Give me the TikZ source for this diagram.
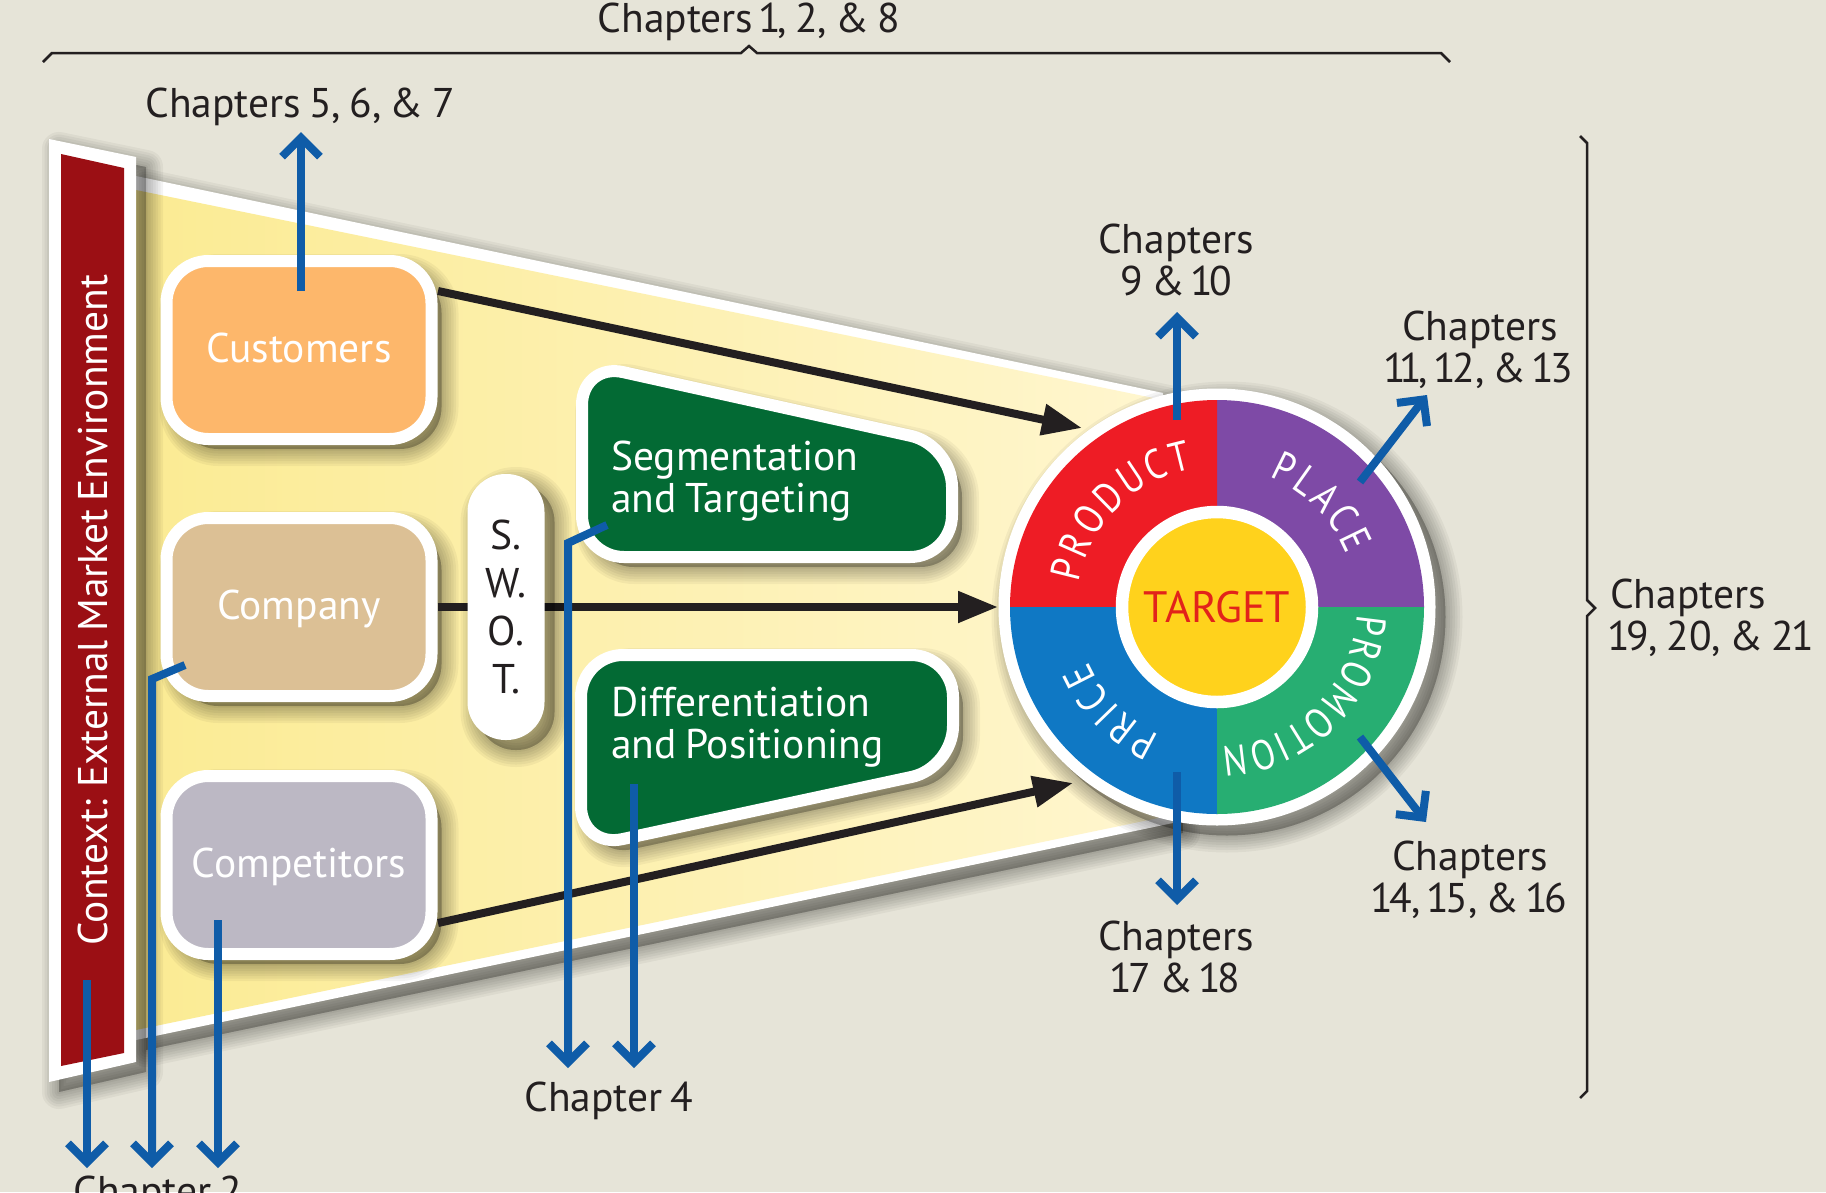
\documentclass[tikz,border=0pt]{standalone}
\usepackage{fontspec}
\setmainfont[WordSpace=0.75]{PT Sans}
\newfontfamily\ringface[FakeStretch=0.84]{PT Sans}
\usetikzlibrary{arrows.meta,decorations.text}
\definecolor{pagebg}{HTML}{E6E4D8}
\definecolor{inkdark}{HTML}{231F20}
\definecolor{barred}{HTML}{9B0F14}
\definecolor{funnelleft}{HTML}{FBEB93}
\definecolor{funnelright}{HTML}{FFF6CF}
\definecolor{custfill}{HTML}{FDB76B}
\definecolor{compfill}{HTML}{DCC095}
\definecolor{rivalfill}{HTML}{BCB8C4}
\definecolor{stpgreen}{HTML}{036A34}
\definecolor{arrowblue}{HTML}{0F5CA8}
\definecolor{wheelred}{HTML}{EE1C25}
\definecolor{wheelpurple}{HTML}{7E4AA6}
\definecolor{wheelblue}{HTML}{0F78C4}
\definecolor{wheelgreen}{HTML}{27AE72}
\definecolor{targetyellow}{HTML}{FFD21C}
\definecolor{targetred}{HTML}{E2231A}
\newcommand{\labelfont}{\fontsize{41.5}{42}\selectfont}
\newcommand{\ringfont}{\ringface\fontsize{42}{44}\selectfont}
\newcommand{\thinone}{\kern-3pt 1\kern-3.5pt}
\newcommand{\ringlabel}[3]{\path[decorate,decoration={text along path,text={|\ringfont|#1},text color=white,text align={fit to path}}] (#2:140) arc[start angle=#2,end angle=#3,radius=140];}
\tikzset{
    shadowlayer/.style={draw=black,fill=black,opacity=.042,line width=#1,line join=round,transform canvas={shift={(10pt,-10pt)}}},
    softshadow/.style={preaction={shadowlayer=34},preaction={shadowlayer=29},preaction={shadowlayer=24},preaction={shadowlayer=19},preaction={shadowlayer=14},preaction={shadowlayer=9},preaction={shadowlayer=4}},
    chapterlabel/.style={text=inkdark,font=\labelfont,align=center,inner sep=0pt},
    boxnode/.style={draw=white,line width=12pt,rounded corners=42pt,minimum width=265,minimum height=178,text=white,font=\labelfont,text height=28pt,text depth=4pt,softshadow},
    stpbox/.style={fill=stpgreen,draw=white,line width=12pt,rounded corners=42pt,line join=round,softshadow},
    stplabel/.style={text=white,font=\labelfont,align=left,anchor=west,inner sep=0pt},
    blackarrow/.style={draw=inkdark,line width=8pt,-{Triangle[length=40pt,width=30pt]}},
    bluearrow/.style={draw=arrowblue,line width=8pt,-{Straight Barb[length=19pt,width=38pt,line width=8pt]}},
    bracket/.style={draw=inkdark,line width=2.5pt}
}
\begin{document}
\begin{tikzpicture}[x=1pt,y=1pt]
    \fill[pagebg] (0,0) rectangle (1826,-1192);
    \useasboundingbox (0,0) rectangle (1826,-1192);

    \draw[bracket] (43,-62) -- (52,-53) -- (741,-53) -- (749,-46) -- (757,-53) -- (1441,-53) -- (1450,-62);
    \draw[bracket] (1580,-136) -- (1587,-143) -- (1587,-600) -- (1595,-608) -- (1587,-616) -- (1587,-1091) -- (1580,-1098);

    \fill[white,softshadow] (136,-176) -- (1163,-393) -- (1173,-823) -- (136,-1040) -- cycle;
    \shade[left color=funnelleft,right color=funnelright] (136,-190) -- (1163,-400) -- (1163,-817) -- (136,-1030) -- cycle;

    \fill[white,softshadow] (49,-139) -- (136,-157) -- (136,-1062) -- (49,-1082) -- cycle;
    \fill[barred] (61,-154) -- (124,-168) -- (124,-1053) -- (61,-1066) -- cycle;

    \coordinate (custout) at (438,-291);
    \coordinate (custtip) at (1082,-428);
    \coordinate (rivalout) at (438,-923);
    \coordinate (rivaltip) at (1073,-783);
    \coordinate (comptip) at (998,-607);

    \node (customers) at (299,-350) [boxnode,fill=custfill] {Customers};
    \node (company) at (299,-607) [boxnode,fill=compfill] {Company};
    \node (competitors) at (299,-865) [boxnode,fill=rivalfill] {Competitors};

    \draw[blackarrow] (custout) -- (custtip);
    \draw[blackarrow] (company) -- (comptip);
    \draw[blackarrow] (rivalout) -- (rivaltip);

    \node (swot) at (506,-607) [rounded corners=38pt,fill=white,minimum width=77,minimum height=266,text=inkdark,font=\labelfont,align=center,inner sep=0pt,softshadow] {S.\\[6pt]W.\\[6pt]O.\\[6pt]T.};

    \path[stpbox] (582,-363) -- (952,-445) -- (952,-557) -- (582,-557) -- cycle;
    \path[stpbox] (581,-655) -- (953,-655) -- (953,-768) -- (581,-848) -- cycle;
    \node (segment) at (611,-481) [stplabel] {Segmentation\\and Targeting};
    \node (differ) at (611,-727) [stplabel] {Differentiation\\and Positioning};

    \node (wheel) at (1217,-607) [circle,fill=white,minimum size=437,inner sep=0pt,softshadow] {};
    \begin{scope}[shift={(1217,-607)}]
        \foreach \col/\ang in {wheelpurple/0,wheelred/90,wheelblue/180,wheelgreen/270}
            \fill[\col] (0,0) -- (\ang:207) arc[start angle=\ang,delta angle=90,radius=207] -- cycle;
        \ringlabel{PRODUCT}{170}{100}
        \ringlabel{PLACE}{68}{22}
        \ringlabel{PROMOTION}{-3}{-88}
        \ringlabel{PRICE}{-114}{-157}
    \end{scope}
    \node (target) at (wheel) [circle,fill=targetyellow,draw=white,line width=12.5pt,minimum size=190,inner sep=0pt,text=targetred,font=\fontsize{44}{46}\selectfont] {TARGET};

    \node (context) at (93,-610) [rotate=90,text=white,font=\labelfont,inner sep=0pt] {Context: External Market Environment};

    \node (lab128) at (749,-22) [chapterlabel] {Chapters \thinone, 2, \& 8};
    \node (lab567) at (300,-107) [chapterlabel] {Chapters 5, 6, \& 7};
    \node (lab910) at (1176,-260) [chapterlabel] {Chapters\\9 \& \thinone 0};
    \node (lab111213) at (1480,-350) [chapterlabel] {Chapters\\\thinone\thinone, \thinone 2, \& \thinone 3};
    \node (lab141516) at (1470,-880) [chapterlabel] {Chapters\\\thinone 4, \thinone 5, \& \thinone 6};
    \node (lab1718) at (1176,-957) [chapterlabel] {Chapters\\\thinone 7 \& \thinone 8};
    \node (lab192021) at (1610,-618) [chapterlabel,anchor=west,align=left] {Chapters\\\thinone 9, 20, \& 2\thinone};
    \node (lab4) at (609,-1101) [chapterlabel] {Chapter 4};
    \node (lab2) at (158,-1195) [chapterlabel] {Chapter 2};

    \coordinate (contextin) at (87,-980);
    \coordinate (contexttip) at (87,-1168);
    \coordinate (companyin) at (185,-665);
    \coordinate (companybend) at (152,-679);
    \coordinate (companytip) at (152,-1168);
    \coordinate (rivalin) at (218,-920);
    \coordinate (rivaltipb) at (218,-1168);
    \coordinate (custin) at (301,-291);
    \coordinate (custtipb) at (301,-132);
    \coordinate (segin) at (607,-525);
    \coordinate (segbend) at (568,-543);
    \coordinate (segtip) at (568,-1068);
    \coordinate (diffin) at (634,-784);
    \coordinate (difftip) at (634,-1068);
    \coordinate (productin) at (1177,-420);
    \coordinate (producttip) at (1177,-312);
    \coordinate (placein) at (1360,-482);
    \coordinate (placetip) at (1427,-395);
    \coordinate (pricein) at (1177,-772);
    \coordinate (pricetip) at (1177,-905);
    \coordinate (promoin) at (1360,-737);
    \coordinate (promotip) at (1426,-822);

    \draw[bluearrow] (contextin) -- (contexttip);
    \draw[bluearrow] (companyin) -- (companybend) -- (companytip);
    \draw[bluearrow] (rivalin) -- (rivaltipb);
    \draw[bluearrow] (custin) -- (custtipb);
    \draw[bluearrow] (segin) -- (segbend) -- (segtip);
    \draw[bluearrow] (diffin) -- (difftip);
    \draw[bluearrow] (productin) -- (producttip);
    \draw[bluearrow] (placein) -- (placetip);
    \draw[bluearrow] (pricein) -- (pricetip);
    \draw[bluearrow] (promoin) -- (promotip);
\end{tikzpicture}
\end{document}
